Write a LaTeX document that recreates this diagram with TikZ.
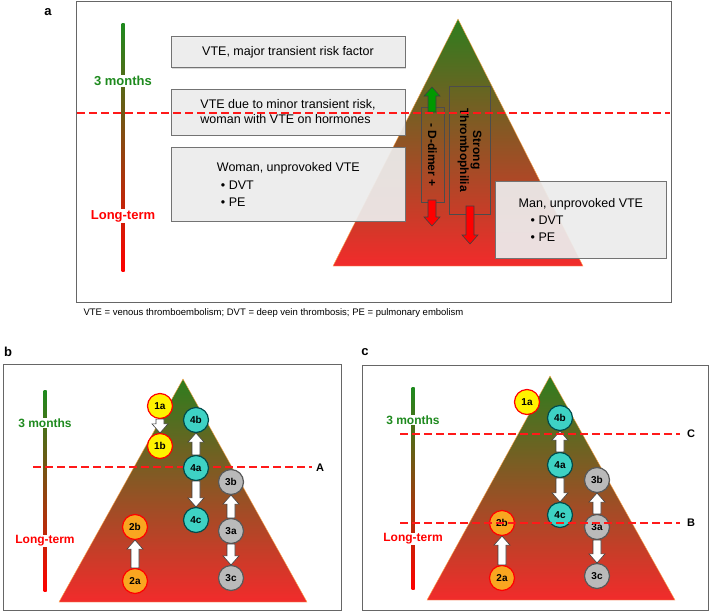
\documentclass[tikz,border=0pt]{standalone}
\usepackage{fontspec}
\setmainfont{Liberation Sans}
\usetikzlibrary{calc,shadows}
\definecolor{tg}{HTML}{2E7D1E}
\definecolor{tr}{HTML}{F22B2B}
\definecolor{lg}{HTML}{1E8A1E}
\definecolor{turq}{HTML}{3ED2C4}
\definecolor{orng}{HTML}{F9A620}
\newcommand\varrow[3]{\draw[fill=#3,draw=black!75,line width=0.6pt] let \p1=#1, \p2=#2, \n1={ifthenelse(\y2>\y1,1,-1)} in
 (\x1-4pt,\y1) -- (\x1+4pt,\y1) -- (\x1+4pt,\y2-\n1*9pt) -- (\x1+8pt,\y2-\n1*9pt) -- (\x1,\y2) -- (\x1-8pt,\y2-\n1*9pt) -- (\x1-4pt,\y2-\n1*9pt) -- cycle;}
\begin{document}
\begin{tikzpicture}[x=1pt,y=-1pt,
 frame/.style={draw=black!60,line width=0.8pt},
 box/.style={draw=black!55,fill=black!6,fill opacity=0.9,text opacity=1,line width=0.8pt,drop shadow={shadow xshift=1pt,shadow yshift=-1pt,opacity=0.3},font=\fontsize{12.5}{15}\selectfont,align=left,inner sep=6pt},
 tri/.style={top color=tg,bottom color=tr,draw=orange!70,line width=0.4pt},
 rdash/.style={red!90,line width=2pt,dash pattern=on 8pt off 4pt},
 bar/.style={top color=lg,bottom color=red},
 lab/.style={font=\bfseries\fontsize{13}{15}\selectfont},
 three/.style={font=\bfseries\fontsize{12}{14}\selectfont,text=lg,fill=white,inner sep=1pt},
 long/.style={font=\bfseries\fontsize{12}{14}\selectfont,text=red,fill=white,inner sep=1pt},
 circ/.style={circle,minimum size=25pt,inner sep=0pt,line width=1.2pt,font=\bfseries\fontsize{10}{12}\selectfont},
 c1/.style={circ,fill=yellow,draw=red},
 c2/.style={circ,fill=orng,draw=red},
 c3/.style={circ,fill=black!27,draw=black!65},
 c4/.style={circ,fill=turq,draw=teal!60!black},
 smallab/.style={font=\bfseries\fontsize{11}{13}\selectfont}]
\useasboundingbox (0,0) rectangle (710,611);
% ---------- panel a
\node[lab] (la) at (48,12) {a};
\draw[frame] (76,1) rectangle (671,302);
\shade[bar] (121.5,23) rectangle (124.5,271);
\node[three,font=\bfseries\fontsize{13}{15}\selectfont] (a3m) at (123,81) {3 months};
\node[long,font=\bfseries\fontsize{13}{15}\selectfont] (alt) at (123,216) {Long-term};
\shade[tri] (458,19) -- (583,266) -- (333,266) -- cycle;
\node[box,minimum width=234pt,minimum height=31pt] (b1) at (288,52) {VTE, major transient risk factor};
\node[box,minimum width=234pt,minimum height=46pt] (b2) at (288,112) {VTE due to minor transient risk,\\woman with VTE on hormones};
\node[box,minimum width=234pt,minimum height=74pt,anchor=north west,inner ysep=4pt] (b3) at (171,147) {Woman, unprovoked VTE\\[3pt]\hspace*{4pt}\textbullet\ DVT\\[2pt]\hspace*{4pt}\textbullet\ PE};
\node[box,minimum width=171pt,minimum height=77pt,anchor=north west,inner ysep=4pt] (b4) at (495,181) {Man, unprovoked VTE\\[2pt]\hspace*{12pt}\textbullet\ DVT\\[2pt]\hspace*{12pt}\textbullet\ PE};
\node[draw=black!70,line width=0.6pt,minimum width=95pt,minimum height=23pt,rotate=-90,font=\bfseries\fontsize{12}{14}\selectfont] (dd) at (432.5,155) {- D-dimer +};
\node[draw=black!70,line width=0.6pt,minimum width=128pt,minimum height=41pt,rotate=-90,align=center,font=\bfseries\fontsize{12}{13}\selectfont] (st) at (469.5,150) {Strong\\Thrombophilia};
\coordinate (gu0) at (432,112); \coordinate (gu1) at (432,87);
\varrow{(gu0)}{(gu1)}{green!60!black}
\coordinate (rd0) at (432,200); \coordinate (rd1) at (432,226);
\varrow{(rd0)}{(rd1)}{red}
\coordinate (rs0) at (470,206); \coordinate (rs1) at (470,244);
\varrow{(rs0)}{(rs1)}{red}
\draw[rdash] (77,113) -- (670,113);
\node[font=\fontsize{9.5}{11}\selectfont,anchor=west] (legend) at (80,313) {VTE = venous thromboembolism; DVT = deep vein thrombosis; PE = pulmonary embolism};
% ---------- panel b
\node[lab] (lb) at (8,352) {b};
\draw[frame] (3,364) rectangle (341,610);
\shade[bar] (43.5,390) rectangle (46.5,591);
\node[three] (b3m) at (45,423) {3 months};
\node[long] (blt) at (45,541) {Long-term};
\shade[tri] (183,379) -- (307,602) -- (59,602) -- cycle;
\draw[rdash] (33,467) -- (312,467);
\node[smallab] (A) at (320,468) {A};
\node[c1] (b1a) at (160,406) {1a};
\node[c1] (b1b) at (160,446) {1b};
\node[c4] (b4b) at (196,420) {4b};
\node[c4] (b4a) at (196,468) {4a};
\node[c4] (b4c) at (196,520) {4c};
\node[c3] (b3b) at (231,482) {3b};
\node[c3] (b3a) at (231,531) {3a};
\node[c3] (b3c) at (231,578) {3c};
\node[c2] (b2b) at (135,527) {2b};
\node[c2] (b2a) at (135,581) {2a};
\varrow{(b1a.south)}{(b1b.north)}{white}
\varrow{(b4a.north)}{(b4b.south)}{white}
\varrow{(b4a.south)}{(b4c.north)}{white}
\varrow{(b3a.north)}{(b3b.south)}{white}
\varrow{(b3a.south)}{(b3c.north)}{white}
\varrow{(b2a.north)}{(b2b.south)}{white}
% ---------- panel c
\node[lab] (lc) at (365,352) {c};
\draw[frame] (362,365) rectangle (708,610);
\shade[bar] (411.5,387) rectangle (414.5,589);
\node[three] (c3m) at (413,420) {3 months};
\node[long] (clt) at (413,539) {Long-term};
\shade[tri] (550,376) -- (675,600) -- (427,600) -- cycle;
\node[c1] (c1a) at (527,402) {1a};
\node[c4] (c4b) at (560,418) {4b};
\node[c4] (c4a) at (560,465) {4a};
\node[c4] (c4c) at (560,515) {4c};
\node[c3] (c3b) at (597,480) {3b};
\node[c3] (c3a) at (597,527) {3a};
\node[c3] (c3c) at (597,576) {3c};
\node[c2] (c2b) at (502,523) {2b};
\node[c2] (c2a) at (502,578) {2a};
\varrow{(c4a.north)}{(c4b.south)}{white}
\varrow{(c4a.south)}{(c4c.north)}{white}
\varrow{(c3a.north)}{(c3b.south)}{white}
\varrow{(c3a.south)}{(c3c.north)}{white}
\varrow{(c2a.north)}{(c2b.south)}{white}
\draw[rdash] (400,434) -- (680,434);
\node[smallab] (C) at (691,434) {C};
\draw[rdash] (400,523) -- (680,523);
\node[smallab] (B) at (691,523) {B};
\end{tikzpicture}
\end{document}
